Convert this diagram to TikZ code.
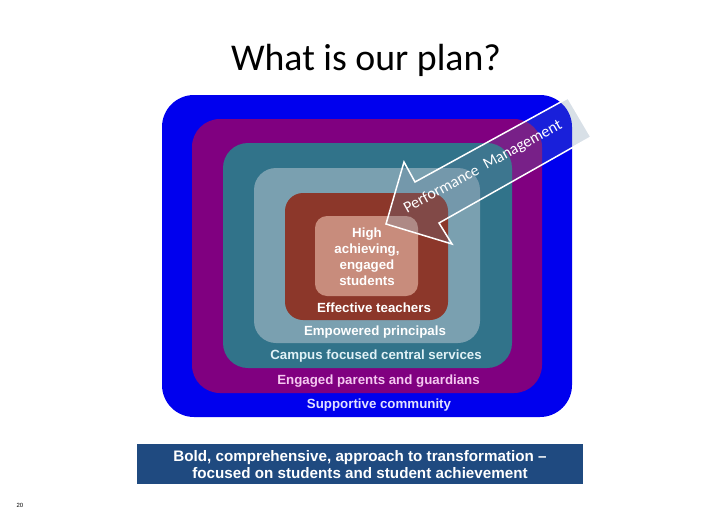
\documentclass[tikz,border=0pt]{standalone}
\usepackage{fontspec}
\setmainfont{Liberation Sans}
\newfontfamily\calib{Carlito}
\definecolor{ringblue}{RGB}{0,0,238}
\definecolor{ringpurple}{RGB}{128,0,128}
\definecolor{ringteal}{RGB}{49,115,138}
\definecolor{ringlteal}{RGB}{122,160,176}
\definecolor{ringred}{RGB}{140,55,42}
\definecolor{ringsalmon}{RGB}{200,140,124}
\definecolor{bannerblue}{RGB}{31,74,128}
\definecolor{arrowfill}{RGB}{100,130,160}
\tikzset{
  ring/.style={rounded corners=#1, inner sep=0pt},
  lbl/.style={font=\fontsize{13.3}{16}\selectfont\bfseries, inner sep=0pt}
}
\begin{document}
\begin{tikzpicture}[x=1pt,y=-1pt]
  \useasboundingbox (0,0) rectangle (720,514);

  \node[font=\calib\fontsize{37.8}{42}\selectfont] (title) at (366,60) {What is our plan?};

  % nested boxes
  \node[ring=32pt, fill=ringblue, minimum width=410pt, minimum height=322pt] (community) at (367,256) {};
  \node[ring=28pt, fill=ringpurple, minimum width=350pt, minimum height=274pt] (parents) at (367,256) {};
  \node[ring=25pt, fill=ringteal, minimum width=289pt, minimum height=225pt] (central) at (367.5,255.5) {};
  \node[ring=22pt, fill=ringlteal, minimum width=226pt, minimum height=175pt] (principals) at (367,255.5) {};
  \node[ring=18pt, fill=ringred, minimum width=163pt, minimum height=127pt] (teachers) at (366.5,256.5) {};
  \node[ring=12pt, fill=ringsalmon, minimum width=103pt, minimum height=80pt] (students) at (366.5,256) {};

  \node[lbl, text=white, align=center, font=\fontsize{13.3}{16}\selectfont\bfseries] (studentstext) at (367,257) {High\\achieving,\\engaged\\students};
  \node[lbl, text=white] (teacherstext) at (374,308) {Effective teachers};
  \node[lbl, text=white] (principalstext) at (375,332) {Empowered principals};
  \node[lbl, text={rgb,255:red,225;green,242;blue,246}] (centraltext) at (376,356) {Campus focused central services};
  \node[lbl, text={rgb,255:red,245;green,200;blue,240}] (parentstext) at (378.5,381) {Engaged parents and guardians};
  \node[lbl, text={rgb,255:red,225;green,225;blue,255}] (communitytext) at (379,405) {Supportive community};

  % performance management arrow
  \coordinate (tip) at (386,224);
  \coordinate (barb1) at (404,162);
  \coordinate (in1) at (415,182);
  \coordinate (end1) at (568,98);
  \coordinate (end2) at (591,137);
  \coordinate (in2) at (439,223);
  \coordinate (barb2) at (452,244);
  \filldraw[fill=arrowfill, fill opacity=0.25, draw=white, line width=1.5pt, line join=miter]
    (tip) -- (barb1) -- (in1) -- (end1) -- (end2) -- (in2) -- (barb2) -- cycle;
  \node[font=\calib\fontsize{16}{18}\selectfont, text=white, rotate=28.8] (pm) at (483,167) {Performance\ \ Management};

  % banner
  \node[fill=bannerblue, minimum width=446pt, minimum height=40pt, inner sep=0pt] (banner) at (360,464) {};
  \node[lbl, text=white, align=center, font=\fontsize{15.2}{17}\selectfont\bfseries] (bannertext) at (360,464.5)
    {Bold, comprehensive, approach to transformation --\\focused on students and student achievement};

  \node[font=\fontsize{6}{7}\selectfont] (page) at (20,505) {20};
\end{tikzpicture}
\end{document}
